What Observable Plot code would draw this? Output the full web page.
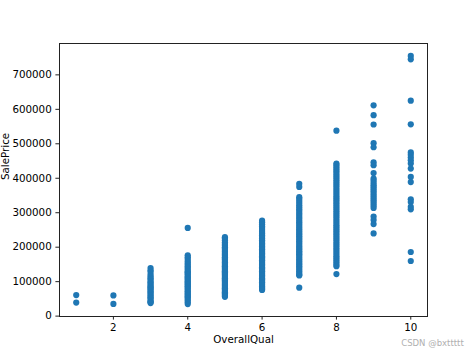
<!DOCTYPE html>
<html>
<head>
<meta charset="utf-8">
<script src="https://cdn.jsdelivr.net/npm/d3@7"></script>
<script src="https://cdn.jsdelivr.net/npm/@observablehq/plot@0.6"></script>
<style>
  html, body { margin: 0; padding: 0; background: #fff; }
  #chart { width: 474px; height: 355px; }
</style>
</head>
<body>
<div id="chart"></div>
<script>
// SalePrice values, grouped by OverallQual
const qualities = [1, 2, 3, 4, 5, 6, 7, 8, 9, 10];
const q1 = [61000, 39300];
const q2 = [60000, 35311];
const q3 = [139600, 133000, 128000, 120500, 115000, 110000, 106000, 100000, 97000, 92000, 87000, 84000, 80000, 76500, 72500, 68500, 64000, 60000, 55000, 52500, 47000, 43000, 40000, 37900];
const q4 = [256000, 176500, 171000, 166000, 160000, 155000, 150000, 145000, 140000, 135500, 130500, 127000, 124000, 120000, 116000, 112000, 108500, 105000, 101000, 97500, 94000, 91000, 87000, 84500, 80000, 76000, 72000, 68000, 64500, 61000, 57500, 54000, 50000, 45000, 40000, 34900];
const q5 = [228950, 225000, 220000, 214000, 209500, 205000, 200000, 196000, 192000, 187500, 183000, 179000, 175000, 171000, 167500, 164000, 160000, 156000, 152000, 148500, 145000, 141000, 137500, 134000, 130500, 127000, 124000, 120500, 117000, 113500, 110000, 106500, 103000, 99500, 96000, 92000, 88000, 84500, 81000, 77000, 73000, 69500, 66000, 62500, 59000, 55993];
const q6 = [277000, 272000, 266500, 261000, 256000, 250000, 245000, 240000, 235000, 230000, 225000, 220000, 215500, 211000, 206500, 202000, 198000, 194000, 190000, 186000, 182000, 178000, 174000, 170000, 166000, 162000, 158000, 154000, 150000, 146000, 142000, 138000, 134000, 130000, 126000, 122000, 118000, 114000, 110000, 106000, 102000, 98000, 94000, 90000, 86000, 82000, 79000, 76000];
const q7 = [383970, 375000, 345000, 340000, 334000, 328000, 322000, 316000, 310000, 305000, 299000, 294000, 288000, 283000, 277500, 272000, 267000, 262000, 257000, 252000, 247000, 242000, 237000, 232000, 227000, 222000, 217000, 212000, 207000, 202000, 197500, 193000, 188500, 184000, 179500, 175000, 170000, 165000, 160000, 155000, 150000, 145000, 140000, 135000, 130000, 125000, 120000, 118000, 82500];
const q8 = [538000, 442567, 438000, 432000, 426000, 420000, 414000, 408000, 402000, 396000, 390000, 384000, 378000, 372000, 366000, 360000, 354000, 348000, 342000, 336000, 330000, 324000, 318000, 312000, 306000, 300000, 294000, 288000, 282000, 276000, 270000, 264000, 258000, 252000, 246000, 240000, 234000, 228000, 222000, 216000, 210000, 204000, 198000, 192000, 186000, 180000, 174000, 168000, 162000, 156000, 150000, 145000, 122000];
const q9 = [611657, 582933, 556000, 501837, 490000, 446261, 438000, 415000, 399000, 393000, 386000, 380000, 374000, 368000, 362000, 356000, 350000, 344000, 338000, 332000, 326000, 320000, 314000, 289000, 279000, 267000, 240000];
const q10 = [755000, 745000, 625000, 556581, 475000, 468000, 460000, 452000, 443000, 428000, 404000, 389000, 339000, 331000, 317000, 310000, 186000, 160000];
const xTicks = [2, 4, 6, 8, 10];
const yTicks = [0, 100000, 200000, 300000, 400000, 500000, 600000, 700000];
const xLabel = "OverallQual";
const yLabel = "SalePrice";
const watermark = "CSDN @bxttttt";

const groups = [q1, q2, q3, q4, q5, q6, q7, q8, q9, q10];
const data = qualities.flatMap((q, i) => groups[i].map(p => ({OverallQual: q, SalePrice: p})));

const allP = data.map(d => d.SalePrice);
const pMin = d3.min(allP), pMax = d3.max(allP);
const pad = (pMax - pMin) * 0.05;

const chart = Plot.plot({
  width: 474,
  height: 355,
  marginLeft: 59,
  marginRight: 47,
  marginTop: 43,
  marginBottom: 39,
  style: {fontFamily: "DejaVu Sans", fontSize: "10.3px", background: "#fff", color: "#000"},
  x: {domain: [0.55, 10.45]},
  y: {domain: [pMin - pad, pMax + pad]},
  marks: [
    Plot.dot(data, {x: "OverallQual", y: "SalePrice", r: 3.1, fill: "#1f77b4", stroke: "none"}),
    Plot.frame({stroke: "#222", strokeWidth: 1}),
    Plot.axisX({ticks: xTicks, tickFormat: d3.format("d"), tickSize: 3.6, tickPadding: 3.2, label: null, stroke: "#222"}),
    Plot.axisY({ticks: yTicks, tickFormat: d3.format("d"), tickSize: 3.6, tickPadding: 4.2, label: null, stroke: "#222"}),
    Plot.text([xLabel], {frameAnchor: "bottom", dy: 26, text: d => d, fontSize: 10.3}),
    Plot.text([yLabel], {frameAnchor: "left", dx: -54, rotate: -90, text: d => d, fontSize: 10.3}),
    Plot.text([watermark], {frameAnchor: "bottom-right", textAnchor: "middle", dx: 5, dy: 29, text: d => d, fontSize: 8.5, fill: "#b0b0b0"})
  ]
});
document.getElementById("chart").appendChild(chart);
</script>
</body>
</html>
